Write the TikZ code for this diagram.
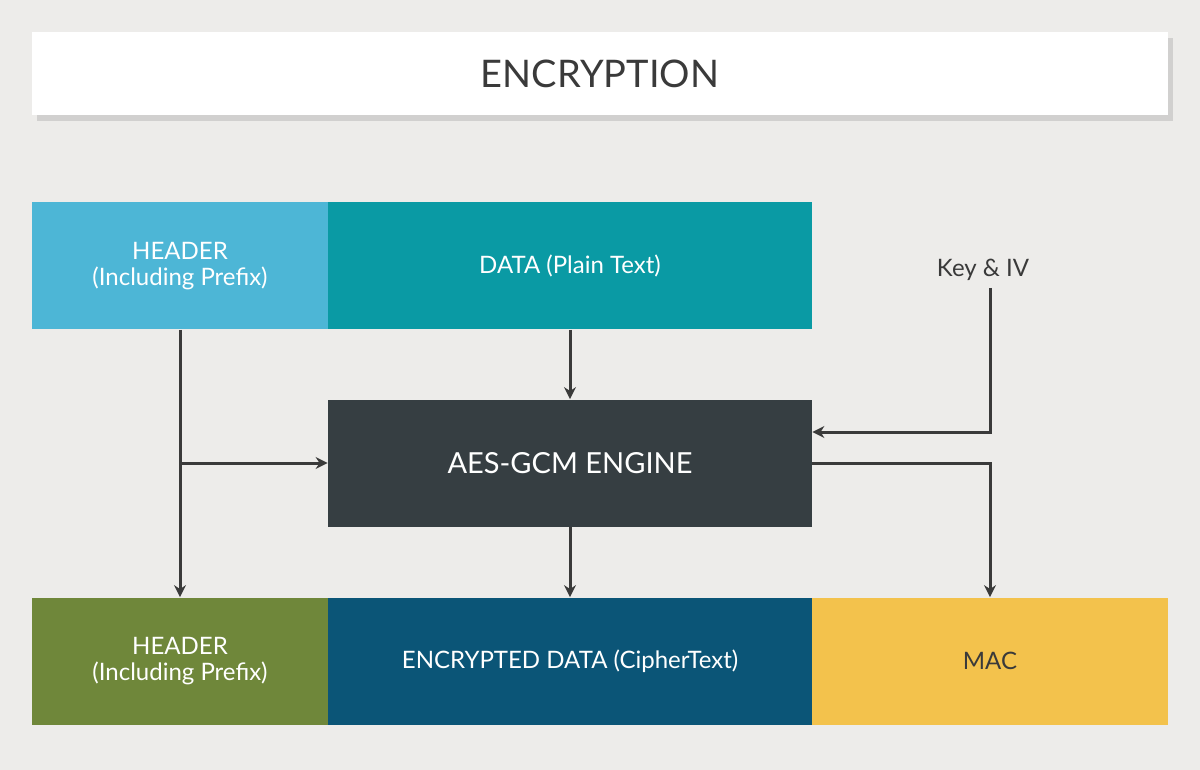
\documentclass[tikz,border=0pt]{standalone}
\usepackage{fontspec}
\setmainfont{Lato}
\usetikzlibrary{positioning,arrows.meta,shadows}
\definecolor{bgGray}{HTML}{EDECEA}
\definecolor{hdrBlue}{HTML}{4DB6D6}
\definecolor{dataTeal}{HTML}{0A9AA4}
\definecolor{engDark}{HTML}{363E42}
\definecolor{hdrOlive}{HTML}{6F873A}
\definecolor{encNavy}{HTML}{0B5577}
\definecolor{macGold}{HTML}{F3C24C}
\definecolor{txtDark}{HTML}{3A3A3A}
\tikzset{
  blk/.style={minimum height=63.5pt,inner sep=0pt,align=center,font=\fontsize{12}{13}\selectfont,text=white},
  fwd/.style={draw=txtDark,line width=1.5pt,-{Stealth[length=6pt,width=6pt]}},
  line/.style={draw=txtDark,line width=1.5pt}
}
\begin{document}
\begin{tikzpicture}[x=0.5pt,y=-0.5pt]
    \fill[bgGray] (0,0) rectangle (1200,770);
    \useasboundingbox (0,0) rectangle (1200,770);

    \node[fill=white,drop shadow={opacity=0.25},minimum width=568pt,minimum height=41.5pt,
          text=txtDark,font=\fontsize{19}{20}\selectfont] (title) at (600,74) {ENCRYPTION};

    \node[blk,fill=hdrBlue,minimum width=148pt]  (hdrIn) at (180,266) {HEADER\\(Including Prefix)};
    \node[blk,fill=dataTeal,minimum width=242pt] (dataIn) at (570,266) {DATA (Plain Text)};
    \node[text=txtDark,font=\fontsize{12}{13}\selectfont] (key) at (983,270) {Key \& IV};

    \node[blk,fill=engDark,minimum width=242pt,font=\fontsize{14.5}{15}\selectfont] (engine) at (570,463) {AES-GCM ENGINE};

    \node[blk,fill=hdrOlive,minimum width=148pt] (hdrOut) at (180,661) {HEADER\\(Including Prefix)};
    \node[blk,fill=encNavy,minimum width=242pt]  (encOut) at (570,661) {ENCRYPTED DATA (CipherText)};
    \node[blk,fill=macGold,minimum width=178pt,text=txtDark] (mac) at (990,661) {MAC};

    \coordinate (split) at (180,463);
    \coordinate (keyTurn) at (990,432);
    \coordinate (macTurn) at (990,463);

    \draw [fwd] (hdrIn.south) -- (hdrOut.north);
    \draw [fwd] (split) -- (engine.west);
    \draw [fwd] (dataIn.south) -- (engine.north);
    \draw [fwd] (engine.south) -- (encOut.north);
    \draw [fwd] (key.south -| keyTurn) -- (keyTurn) -- (engine.east |- keyTurn);
    \draw [fwd] (engine.east) -- (macTurn) -- (mac.north);
\end{tikzpicture}
\end{document}
